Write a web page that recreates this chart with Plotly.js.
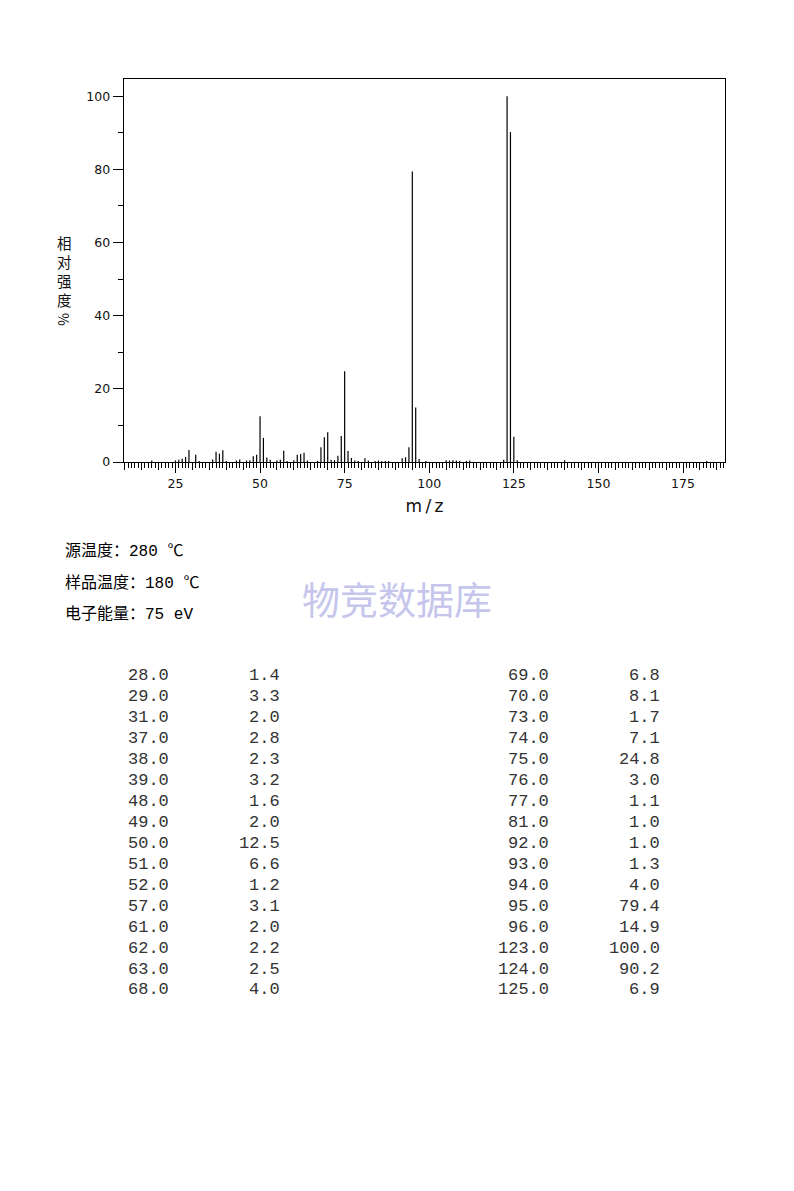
<!DOCTYPE html>
<html>
<head>
<meta charset="utf-8">
<script src="https://cdn.plot.ly/plotly-3.0.1.min.js"></script>
<style>
html,body{margin:0;padding:0;background:#fff;}
#chart{width:794px;height:1191px;}
</style>
</head>
<body>
<div id="chart"></div>
<script>
// ---- data ----
// listed peaks (table)
const tableMz = [28,29,31,37,38,39,48,49,50,51,52,57,61,62,63,68,
                 69,70,73,74,75,76,77,81,92,93,94,95,96,123,124,125];
const tableInt = [1.4,3.3,2.0,2.8,2.3,3.2,1.6,2.0,12.5,6.6,1.2,3.1,2.0,2.2,2.5,4.0,
                  6.8,8.1,1.7,7.1,24.8,3.0,1.1,1.0,1.0,1.3,4.0,79.4,14.9,100.0,90.2,6.9];
// minor peaks (< 1 %)
const minorMz = [18,25,26,27,32,36,40,43,44,46,47,53,55,56,58,60,64,67,71,72,78,79,82,84,85,86,87,88,
                 97,99,105,106,107,108,109,111,112,122,126,140,182];
const minorInt = [0.4,0.4,0.6,0.9,0.3,0.7,0.3,0.4,0.7,0.4,0.5,0.6,0.4,0.6,0.3,0.5,0.4,0.3,0.6,0.5,0.4,0.3,0.4,0.3,0.4,0.3,0.3,0.3,
                  0.8,0.3,0.5,0.4,0.5,0.4,0.3,0.3,0.4,0.6,0.5,0.5,0.3];
const infoLines = ["源温度：280 ℃", "样品温度：180 ℃", "电子能量：75 eV"];
const watermark = "物竞数据库";
const yTitleText = "相<br>对<br>强<br>度";
const yTitleUnit = "%";
const xTitle = "m\u2009/\u2009z";

// ---- layout helpers ----
const W = 794, H = 1191;
const L = 124, R = 725, T = 79, B = 462;
const px = x => (x - L) / (R - L);
const py = y => (B - y) / (B - T);

// stick spectrum built from data
const allMz = tableMz.concat(minorMz);
const allInt = tableInt.concat(minorInt);
const sx = [], sy = [];
allMz.forEach((m, i) => { sx.push(m, m, null); sy.push(0, allInt[i], null); });

const traces = [
  {x: sx, y: sy, type: 'scatter', mode: 'lines', line: {color: '#000', width: 1.2},
   hoverinfo: 'skip', showlegend: false, xaxis: 'x', yaxis: 'y'},
  {x: [null], y: [null], type: 'scatter', mode: 'lines', showlegend: false,
   hoverinfo: 'skip', xaxis: 'x2', yaxis: 'y'}
];

const xr = [9.8, 187.4];
const annotations = [];

// y-axis title, stacked characters
annotations.push({text: yTitleText, xref: 'paper', yref: 'paper', x: px(64), y: py(271),
  xanchor: 'center', yanchor: 'middle', showarrow: false, borderpad: 0,
  font: {family: 'Noto Sans CJK SC, sans-serif', size: 14.5, color: '#111'}});
annotations.push({text: yTitleUnit, xref: 'paper', yref: 'paper', x: px(64), y: py(319),
  xanchor: 'center', yanchor: 'middle', showarrow: false, borderpad: 0, textangle: 90,
  font: {family: 'Noto Sans CJK SC, sans-serif', size: 14, color: '#111'}});

// info lines
const infoY = [551, 583, 614];
infoLines.forEach((t, i) => {
  annotations.push({text: t, xref: 'paper', yref: 'paper', x: px(63), y: py(infoY[i]),
    xanchor: 'left', yanchor: 'middle', showarrow: false,
    font: {family: 'Liberation Mono, Noto Sans CJK SC, monospace', size: 16, color: '#000'}});
});

// watermark
annotations.push({text: watermark, xref: 'paper', yref: 'paper', x: px(397), y: py(597),
  xanchor: 'center', yanchor: 'middle', showarrow: false,
  font: {family: 'Noto Sans CJK SC, sans-serif', size: 38, color: 'rgb(198,198,236)'}});

// peak table
const rows = 16, rowY0 = 675, rowDy = 21;
const colRight = [171, 282, 551, 662];
for (let i = 0; i < tableMz.length; i++) {
  const col = Math.floor(i / rows), r = i % rows;
  const yy = py(rowY0 + r * rowDy);
  const f = {family: 'Liberation Mono, monospace', size: 17, color: '#333'};
  annotations.push({text: tableMz[i].toFixed(1), xref: 'paper', yref: 'paper',
    x: px(colRight[col * 2]), y: yy, xanchor: 'right', yanchor: 'middle', showarrow: false, font: f});
  annotations.push({text: tableInt[i].toFixed(1), xref: 'paper', yref: 'paper',
    x: px(colRight[col * 2 + 1]), y: yy, xanchor: 'right', yanchor: 'middle', showarrow: false, font: f});
}

const tickFont = {family: 'DejaVu Sans, Verdana, sans-serif', size: 12.5, color: '#111'};
const layout = {
  width: W, height: H,
  margin: {l: L, r: W - R, t: T, b: H - B, pad: 0},
  paper_bgcolor: '#fff', plot_bgcolor: '#fff',
  showlegend: false,
  xaxis: {
    range: xr, showgrid: false, zeroline: false,
    showline: true, linecolor: '#000', linewidth: 1.3, mirror: true,
    tickmode: 'linear', tick0: 0, dtick: 5, ticks: 'outside', ticklen: 7, tickwidth: 1, tickcolor: '#000',
    showticklabels: false,
    minor: {tickmode: 'linear', tick0: 0, dtick: 1, ticks: 'outside', ticklen: 5, tickwidth: 1, tickcolor: '#000', showgrid: false},
    title: {text: ''}
  },
  xaxis2: {
    overlaying: 'x', anchor: 'y', side: 'bottom',
    range: xr, showgrid: false, zeroline: false, showline: false,
    tickmode: 'linear', tick0: 0, dtick: 25, ticks: 'outside', ticklen: 10, tickwidth: 1, tickcolor: '#000',
    showticklabels: true, tickfont: tickFont,
    title: {text: xTitle, font: {family: 'DejaVu Sans, sans-serif', size: 17, color: '#111'}, standoff: 10}
  },
  yaxis: {
    range: [0, 104.7], showgrid: false, zeroline: false,
    showline: true, linecolor: '#000', linewidth: 1.3, mirror: true,
    tickmode: 'linear', tick0: 0, dtick: 20, ticks: 'outside', ticklen: 10, tickwidth: 1, tickcolor: '#000',
    tickfont: tickFont,
    minor: {tickmode: 'linear', tick0: 0, dtick: 10, ticks: 'outside', ticklen: 5, tickwidth: 1, tickcolor: '#000', showgrid: false}
  },
  annotations: annotations
};

Plotly.newPlot('chart', traces, layout, {staticPlot: true, displayModeBar: false});
</script>
</body>
</html>
